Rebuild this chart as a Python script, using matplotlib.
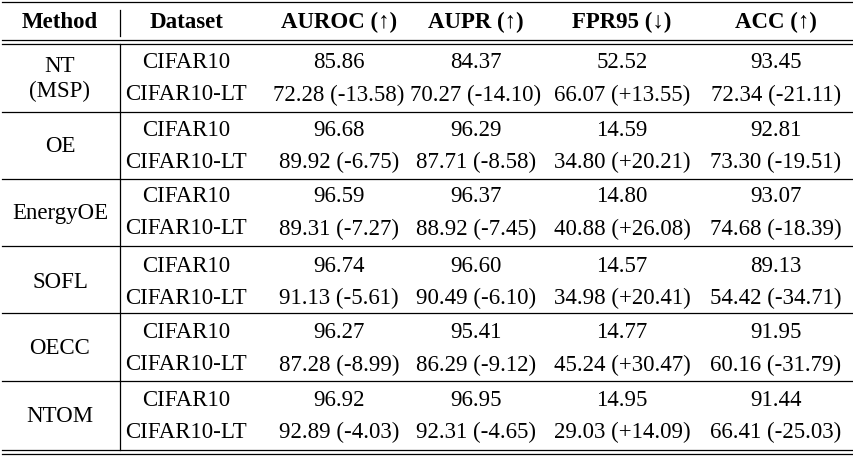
import matplotlib

matplotlib.use("Agg")
import matplotlib.pyplot as plt

methods = ["NT\n(MSP)", "OE", "EnergyOE", "SOFL", "OECC", "NTOM"]
datasets = ["CIFAR10", "CIFAR10-LT"]
headers = ["Method", "Dataset", "AUROC (\u2191)", "AUPR (\u2191)", "FPR95 (\u2193)", "ACC (\u2191)"]

balanced = [
    ["85.86", "84.37", "52.52", "93.45"],
    ["96.68", "96.29", "14.59", "92.81"],
    ["96.59", "96.37", "14.80", "93.07"],
    ["96.74", "96.60", "14.57", "89.13"],
    ["96.27", "95.41", "14.77", "91.95"],
    ["96.92", "96.95", "14.95", "91.44"],
]
longtail = [
    ["72.28 (-13.58)", "70.27 (-14.10)", "66.07 (+13.55)", "72.34 (-21.11)"],
    ["89.92 (-6.75)", "87.71 (-8.58)", "34.80 (+20.21)", "73.30 (-19.51)"],
    ["89.31 (-7.27)", "88.92 (-7.45)", "40.88 (+26.08)", "74.68 (-18.39)"],
    ["91.13 (-5.61)", "90.49 (-6.10)", "34.98 (+20.41)", "54.42 (-34.71)"],
    ["87.28 (-8.99)", "86.29 (-9.12)", "45.24 (+30.47)", "60.16 (-31.79)"],
    ["92.89 (-4.03)", "92.31 (-4.65)", "29.03 (+14.09)", "66.41 (-25.03)"],
]

col_x = [60, 186, 339, 476, 622, 776]
row1_y = [63, 130, 197, 266, 333, 400]
row_gap = 32
sep_y = [112, 179, 246, 313, 381]

plt.rcParams["font.family"] = ["Liberation Serif", "DejaVu Serif"]
fig = plt.figure(figsize=(8.54, 4.62), dpi=100)
ax = fig.add_axes([0, 0, 1, 1])
ax.set_xlim(0, 854)
ax.set_ylim(462, 0)
ax.axis("off")

fs = 16.5
for x, h in zip(col_x, headers):
    ax.text(x, 22, h, ha="center", va="center", fontsize=fs, fontweight="bold")

for i, m in enumerate(methods):
    y = row1_y[i]
    ax.text(col_x[0], y + row_gap / 2, m, ha="center", va="center", fontsize=fs,
            linespacing=1.2)
    ax.text(col_x[1], y, datasets[0], ha="center", va="center", fontsize=fs)
    ax.text(col_x[1], y + row_gap, datasets[1], ha="center", va="center", fontsize=fs)
    for j in range(4):
        ax.text(col_x[j + 2], y, balanced[i][j], ha="center", va="center", fontsize=fs)
        ax.text(col_x[j + 2], y + row_gap, longtail[i][j], ha="center", va="center", fontsize=fs)

lw = 0.9
ax.plot([2, 852], [2, 2], color="black", lw=lw)
for yy in (40, 44, 450, 454):
    ax.plot([2, 852], [yy, yy], color="black", lw=lw)
for yy in sep_y:
    ax.plot([2, 852], [yy, yy], color="black", lw=lw)
ax.plot([120, 120], [10, 36], color="black", lw=lw)
ax.plot([120, 120], [44, 450], color="black", lw=lw)

fig.savefig("out.png", dpi=100)
